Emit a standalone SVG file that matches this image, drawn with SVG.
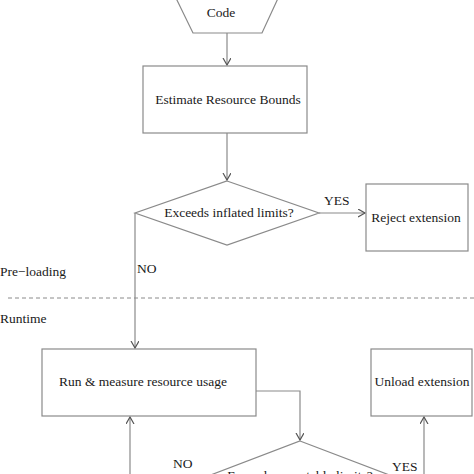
<svg xmlns="http://www.w3.org/2000/svg" width="474" height="474" viewBox="0 0 474 474">
<defs>
<style>
.shape{fill:#fff;stroke:#8a8a8a;stroke-width:1.2}
.line{fill:none;stroke:#8a8a8a;stroke-width:1.2}
text{font-family:"Liberation Serif","Times New Roman",serif;font-size:13.5px;fill:#1a1a1a}
.c{text-anchor:middle}
</style>
<marker id="arr" markerWidth="10" markerHeight="10" refX="7" refY="4" orient="auto" markerUnits="userSpaceOnUse">
<path d="M0,0 L7,4 L0,8" fill="none" stroke="#555" stroke-width="1.2"/>
</marker>
</defs>
<rect width="474" height="474" fill="#fff"/>
<g id="connectors">
<path class="line" d="M227,33 V65" marker-end="url(#arr)"/>
<path class="line" d="M227,133 V180" marker-end="url(#arr)"/>
<path class="line" d="M319,213 H365" marker-end="url(#arr)"/>
<path class="line" d="M135,213 V348" marker-end="url(#arr)"/>
<path class="line" d="M256,391 H300 V440" marker-end="url(#arr)"/>
<path class="line" d="M208,476 H130 V417" marker-end="url(#arr)"/>
<path class="line" d="M392,476 H424 V417" marker-end="url(#arr)"/>
<line x1="8" y1="298" x2="474" y2="298" stroke="#8a8a8a" stroke-width="1" stroke-dasharray="4,3"/>
<text x="324" y="205">YES</text>
<text x="137" y="273">NO</text>
<text x="173" y="468">NO</text>
<text x="392" y="471">YES</text>
</g>
<g id="code">
<polygon class="shape" points="174,-6 193,33 262,33 280,-6"/>
<text class="c" x="221" y="17">Code</text>
</g>
<g id="estimate">
<rect class="shape" x="143" y="66" width="164" height="67"/>
<text class="c" x="228" y="104">Estimate Resource Bounds</text>
</g>
<g id="decision1">
<polygon class="shape" points="227,181 319,213 227,245 135,213"/>
<text class="c" x="229" y="217">Exceeds inflated limits?</text>
</g>
<g id="reject">
<rect class="shape" x="366" y="184" width="102" height="67"/>
<text class="c" x="416" y="222">Reject extension</text>
</g>
<g id="labels">
<text x="0" y="276">Pre−loading</text>
<text x="0" y="323">Runtime</text>
</g>
<g id="run">
<rect class="shape" x="42" y="349" width="214" height="67"/>
<text class="c" x="143" y="386">Run &amp; measure resource usage</text>
</g>
<g id="unload">
<rect class="shape" x="371" y="349" width="101" height="67"/>
<text class="c" x="422" y="386">Unload extension</text>
</g>
<g id="decision2">
<polygon class="shape" points="300,441 392,476 300,511 208,476"/>
<text class="c" x="300" y="480">Exceeds acceptable limits?</text>
</g>
</svg>
